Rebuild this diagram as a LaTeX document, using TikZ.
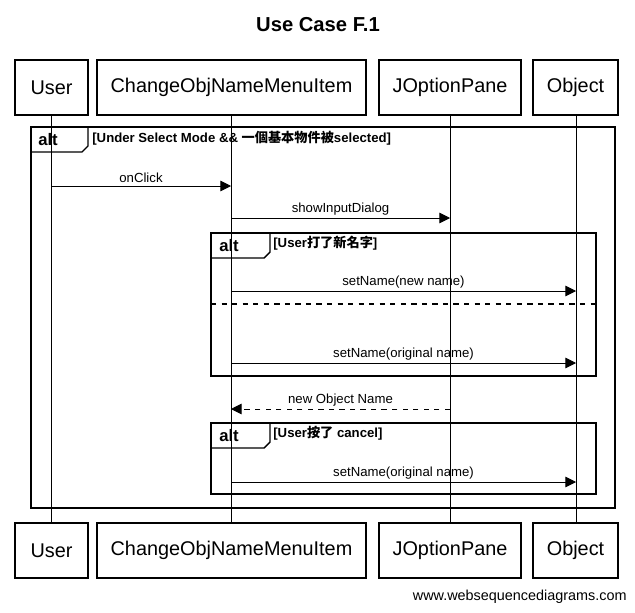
\documentclass[tikz,border=0pt]{standalone}
\usepackage{fontspec}
\setmainfont{Liberation Sans}
\newfontfamily\cjk{Noto Sans CJK TC}
\usetikzlibrary{arrows.meta}
\begin{document}
\begin{tikzpicture}[x=0.02cm,y=-0.02cm,
 box/.style={draw,thick,minimum height=55*0.02cm,inner sep=0pt,font=\fontsize{11.3}{13}\selectfont},
 msg/.style={-{Triangle[length=6pt,width=6pt]}},
 ret/.style={dashed,-{Triangle[length=6pt,width=6pt]}},
 lbl/.style={font=\fontsize{7.5}{8}\selectfont,above,inner sep=1.5pt},
 frame/.style={draw,thick},
 cond/.style={font=\bfseries\fontsize{7.5}{8}\selectfont,anchor=west,inner sep=0pt},
 altl/.style={font=\bfseries\fontsize{9.5}{10}\selectfont,inner sep=0pt}]
\useasboundingbox (0,0) rectangle (635,612);
\node[font=\bfseries\fontsize{11.5}{13}\selectfont] (title) at (318,25) {Use Case F.1};
\foreach \n/\l/\r/\t in {u/15/88/User,c/97/366/ChangeObjNameMenuItem,j/379/521/JOptionPane,o/533/618/Object}{
  \node[box,minimum width={(\r-\l)*0.02cm}] (\n t) at ({(\l+\r)/2},87.5) {\t};
  \node[box,minimum width={(\r-\l)*0.02cm}] (\n b) at ({(\l+\r)/2},550.5) {\t};
}
\draw (51,115) -- (51,523);
\draw (231,115) -- (231,523);
\draw (450,115) -- (450,523);
\draw (576,115) -- (576,523);
% outer alt
\draw[frame] (31,127) rectangle (615,508);
\draw[frame] (31,152) -- (82,152) -- (88,146) -- (88,127);
\node[altl] (a0) at (48,140) {alt};
\node[cond] (c0) at (92,138) {[Under Select Mode \&\& {\cjk 一個基本物件被}selected]};
\coordinate (m1a) at (51,186); \coordinate (m1b) at (231,186);
\draw[msg] (m1a) -- node[lbl] {onClick} (m1b);
\coordinate (m2a) at (231,218); \coordinate (m2b) at (450,218);
\draw[msg] (m2a) -- node[lbl] {showInputDialog} (m2b);
% alt 1
\draw[frame] (211,233) rectangle (596,376);
\draw[frame] (211,258) -- (264,258) -- (270,252) -- (270,233);
\node[altl] (a1) at (229,246) {alt};
\node[cond] (c1) at (273,243) {[User{\cjk 打了新名字}]};
\coordinate (m3a) at (231,291); \coordinate (m3b) at (576,291);
\draw[msg] (m3a) -- node[lbl] {setName(new name)} (m3b);
\draw[thick,dashed] (211,304) -- (596,304);
\coordinate (m4a) at (231,363); \coordinate (m4b) at (576,363);
\draw[msg] (m4a) -- node[lbl] {setName(original name)} (m4b);
\coordinate (m5a) at (450,409); \coordinate (m5b) at (231,409);
\draw[ret] (m5a) -- node[lbl] {new Object Name} (m5b);
% alt 2
\draw[frame] (211,423) rectangle (596,494);
\draw[frame] (211,448) -- (264,448) -- (270,442) -- (270,423);
\node[altl] (a2) at (229,436) {alt};
\node[cond] (c2) at (273,433) {[User{\cjk 按了} cancel]};
\coordinate (m6a) at (231,482); \coordinate (m6b) at (576,482);
\draw[msg] (m6a) -- node[lbl] {setName(original name)} (m6b);
\node[font=\fontsize{8.2}{9}\selectfont,anchor=east,inner sep=0pt] (foot) at (627,597) {www.websequencediagrams.com};
\end{tikzpicture}
\end{document}
